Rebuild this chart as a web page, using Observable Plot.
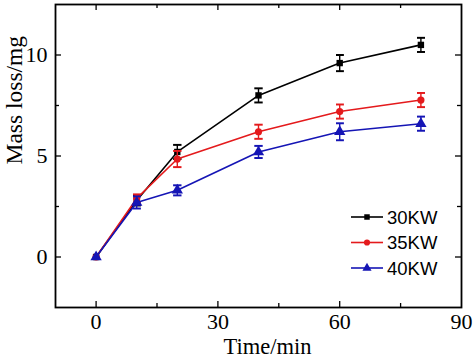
<!DOCTYPE html>
<html>
<head>
<meta charset="utf-8">
<script src="https://cdn.jsdelivr.net/npm/d3@7"></script>
<script src="https://cdn.jsdelivr.net/npm/@observablehq/plot@0.6"></script>
<style>
  html, body { margin: 0; padding: 0; background: #fff; }
  #wrap { position: relative; width: 474px; height: 355px; overflow: hidden; }
  #legend { position: absolute; left: 348px; top: 204px; }
</style>
</head>
<body>
<div id="wrap"><div id="chart"></div><div id="legend"></div></div>
<script>
// ---- data ----
const times = [0, 10, 20, 40, 60, 80];
const seriesNames = ["30KW", "35KW", "40KW"];
const kw30 = [0, 2.8, 5.2, 8.0, 9.6, 10.5];
const err30 = [0, 0.25, 0.35, 0.35, 0.4, 0.35];
const kw35 = [0, 2.9, 4.85, 6.2, 7.2, 7.77];
const err35 = [0, 0.2, 0.4, 0.35, 0.35, 0.35];
const kw40 = [0, 2.7, 3.3, 5.2, 6.2, 6.6];
const err40 = [0, 0.3, 0.25, 0.3, 0.42, 0.35];
const colors = ["#000000", "#e41a1c", "#1515b5"];
const symbols = ["square", "circle", "triangle"];
const xMajor = [0, 30, 60, 90];
const xMinor = [15, 45, 75];
const yMajor = [0, 5, 10];
const yMinor = [2.5, 7.5];
const xLabel = "Time/min";
const yLabel = "Mass loss/mg";

const values = [kw30, kw35, kw40];
const errors = [err30, err35, err40];
const rows = [];
seriesNames.forEach((s, i) => times.forEach((t, j) => rows.push({
  series: s, t, v: values[i][j], e: errors[i][j]
})));

const W = 474, H = 355;
const mL = 55, mR = 13, mT = 4, mB = 48;
const pw = W - mL - mR, ph = H - mT - mB;

const marks = [
  // ticks (inward)
  Plot.tickY(yMajor, {y: d => d, insetRight: pw - 6, strokeWidth: 1.3}),
  Plot.tickY(yMinor, {y: d => d, insetRight: pw - 4, strokeWidth: 1.3}),
  Plot.tickY(yMajor, {y: d => d, insetLeft: pw - 6, strokeWidth: 1.3}),
  Plot.tickY(yMinor, {y: d => d, insetLeft: pw - 4, strokeWidth: 1.3}),
  Plot.tickX(xMajor.slice(0, 3), {x: d => d, insetTop: ph - 6, strokeWidth: 1.3}),
  Plot.tickX(xMinor, {x: d => d, insetTop: ph - 4, strokeWidth: 1.3}),
  Plot.tickX(xMajor.slice(0, 3), {x: d => d, insetBottom: ph - 6, strokeWidth: 1.3}),
  Plot.tickX(xMinor, {x: d => d, insetBottom: ph - 4, strokeWidth: 1.3}),
  Plot.axisY(yMajor, {tickSize: 0, tickPadding: 8, fontSize: 22, label: null}),
  Plot.axisX(xMajor, {tickSize: 0, tickPadding: 6, fontSize: 22, label: null}),
  Plot.text([yLabel], {text: d => d, frameAnchor: "left", rotate: -90, dx: -41, dy: 8.5,
    fontSize: 23.5, lineAnchor: "middle", fill: "#000"}),
  Plot.text([xLabel], {text: d => d, frameAnchor: "bottom", dx: 9, dy: 31,
    fontSize: 22.5, lineAnchor: "top", fill: "#000"}),
  Plot.frame({stroke: "#000", strokeWidth: 1.8}),
];
seriesNames.forEach((s, i) => {
  const d = rows.filter(r => r.series === s);
  marks.push(
    Plot.line(d, {x: "t", y: "v", stroke: colors[i], strokeWidth: 1.6}),
    Plot.link(d.filter(r => r.e > 0), {x1: "t", x2: "t", y1: r => r.v - r.e, y2: r => r.v + r.e,
      stroke: colors[i], strokeWidth: 1.4, markerStart: "tick", markerEnd: "tick"}),
    Plot.dot(d, {x: "t", y: "v", symbol: symbols[i], fill: colors[i], stroke: "none",
      r: i === 2 ? 4.2 : 3.6})
  );
});

const chart = Plot.plot({
  width: W, height: H,
  marginLeft: mL, marginRight: mR, marginTop: mT, marginBottom: mB,
  style: {fontFamily: "'Liberation Serif', 'Times New Roman', serif", color: "#000", background: "#fff"},
  x: {domain: [-10, 90]},
  y: {domain: [-2.5, 12.5]},
  marks
});
document.getElementById("chart").append(chart);

// legend (inside plot, bottom-right)
const lg = d3.select("#legend").append("svg").attr("width", 110).attr("height", 80)
  .style("font-family", "'Liberation Sans', Arial, sans-serif");
seriesNames.forEach((s, i) => {
  const y = 13 + i * 25.5;
  const g = lg.append("g");
  g.append("line").attr("x1", 3).attr("x2", 35).attr("y1", y).attr("y2", y)
    .attr("stroke", colors[i]).attr("stroke-width", 1.6);
  g.append("path").attr("transform", `translate(19,${y})`)
    .attr("d", d3.symbol(i === 0 ? d3.symbolSquare : i === 1 ? d3.symbolCircle : d3.symbolTriangle, i === 2 ? 36 : 30)())
    .attr("fill", colors[i]);
  g.append("text").attr("x", 39).attr("y", y).attr("dy", "0.36em")
    .attr("font-size", 18.5).attr("fill", "#000").text(s);
});
</script>
</body>
</html>
